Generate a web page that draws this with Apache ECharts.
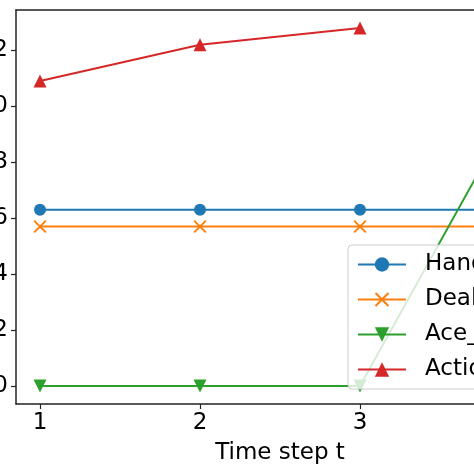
<!DOCTYPE html>
<html>
<head>
<meta charset="utf-8">
<script src="https://cdn.jsdelivr.net/npm/echarts@6/dist/echarts.min.js"></script>
<style>
  html, body { margin: 0; padding: 0; background: #fff; }
  #main { width: 474px; height: 474px; }
</style>
</head>
<body>
<div id="main"></div>
<script>
// time steps and values
var steps = [1, 2, 3, 4];
var handValues = [0.63, 0.63, 0.63, 0.63];
var dealerValues = [0.57, 0.57, 0.57, 0.57];
var aceValues = [0, 0, 0, 1.03];
var actionValues = [1.09, 1.22, 1.28];
var seriesNames = ['Hand_sum', 'Dealer_card', 'Ace_usable', 'Action'];
var xTicks = [1, 2, 3, 4];
var yTicks = [0, 0.2, 0.4, 0.6, 0.8, 1.0, 1.2];

// thin "x" marker like matplotlib's
var xMarker = 'path://M0,1L1,0L5,4L9,0L10,1L6,5L10,9L9,10L5,6L1,10L0,9L4,5Z';

function pairs(vals) {
  return vals.map(function (v, i) { return [steps[i], v]; });
}

var myChart = echarts.init(document.getElementById('main'));

var axisFont = { fontFamily: 'DejaVu Sans', fontSize: 23, color: '#000' };
var spine = { show: true, onZero: false, lineStyle: { color: '#222', width: 1.5 } };

var option = {
  animation: false,
  backgroundColor: '#fff',
  grid: {
    left: 16,
    top: 10,
    bottom: 70,
    right: -70,
    containLabel: false,
    outerBoundsMode: 'none'
  },
  xAxis: [{
    type: 'value',
    min: 0.85,
    max: 4.15,
    splitLine: { show: false },
    axisLine: spine,
    axisTick: { show: true, length: 5, customValues: xTicks, lineStyle: { color: '#222', width: 1.2 } },
    axisLabel: Object.assign({ customValues: xTicks, margin: 8 }, axisFont),
    name: 'Time step t',
    nameLocation: 'middle',
    nameGap: 38,
    nameTextStyle: axisFont
  }, {
    // top spine only
    type: 'value',
    position: 'top',
    min: 0.85,
    max: 4.15,
    splitLine: { show: false },
    axisLine: spine,
    axisTick: { show: false },
    axisLabel: { show: false }
  }],
  yAxis: {
    type: 'value',
    min: -0.064,
    max: 1.344,
    splitLine: { show: false },
    axisLine: spine,
    axisTick: { show: true, length: 5, customValues: yTicks, lineStyle: { color: '#222', width: 1.2 } },
    axisLabel: Object.assign({
      customValues: yTicks,
      margin: 8,
      formatter: function (v) { return v.toFixed(1); }
    }, axisFont)
  },
  legend: {
    orient: 'vertical',
    left: 348,
    top: 245,
    padding: [6, 10, 6, 9],
    itemWidth: 48,
    itemHeight: 18,
    itemGap: 8,
    backgroundColor: 'rgba(255,255,255,0.8)',
    borderColor: '#cccccc',
    borderWidth: 1,
    borderRadius: 4,
    textStyle: { fontFamily: 'DejaVu Sans', fontSize: 23, color: '#000', lineHeight: 27, padding: [0, 0, 0, 14] },
    data: seriesNames
  },
  series: [
    {
      name: seriesNames[0], type: 'line', data: pairs(handValues),
      symbol: 'circle', symbolSize: 12,
      lineStyle: { color: '#1f77b4', width: 2 }, itemStyle: { color: '#1f77b4' }
    },
    {
      name: seriesNames[1], type: 'line', data: pairs(dealerValues),
      symbol: xMarker, symbolSize: 13,
      lineStyle: { color: '#ff7f0e', width: 2 }, itemStyle: { color: '#ff7f0e' }
    },
    {
      name: seriesNames[2], type: 'line', data: pairs(aceValues),
      symbol: 'triangle', symbolRotate: 180, symbolSize: 13,
      lineStyle: { color: '#2ca02c', width: 2 }, itemStyle: { color: '#2ca02c' }
    },
    {
      name: seriesNames[3], type: 'line', data: pairs(actionValues),
      symbol: 'triangle', symbolSize: 13,
      lineStyle: { color: '#d62728', width: 2 }, itemStyle: { color: '#d62728' }
    }
  ]
};
myChart.setOption(option);
</script>
</body>
</html>
